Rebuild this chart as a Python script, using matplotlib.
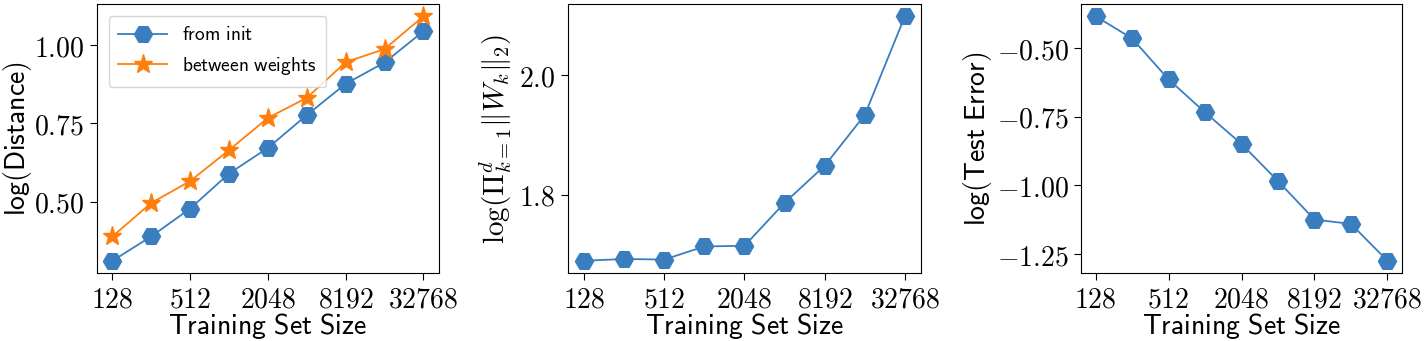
import numpy as np
import matplotlib
matplotlib.use("Agg")
import matplotlib.pyplot as plt
from matplotlib.ticker import FixedLocator, FuncFormatter

plt.rcParams["mathtext.fontset"] = "cm"
plt.rcParams["font.family"] = ["DejaVu Sans"]

# ── datos ────────────────────────────────────────────────────────────────────
train_sizes = [128, 256, 512, 1024, 2048, 4096, 8192, 16384, 32768]
tick_sizes  = [128, 512, 2048, 8192, 32768]

dist_from_init       = [0.311, 0.389, 0.478, 0.590, 0.672, 0.777, 0.877, 0.945, 1.045]
dist_between_weights = [0.389, 0.496, 0.566, 0.665, 0.768, 0.832, 0.946, 0.988, 1.093]
log_spectral_prod    = [1.690, 1.693, 1.692, 1.714, 1.715, 1.787, 1.849, 1.934, 2.099]
log_test_error       = [-0.384, -0.465, -0.614, -0.734, -0.849, -0.984, -1.124, -1.140, -1.274]

BLUE   = "#3a7ebf"
ORANGE = "#ff7f0e"


def sf(txt):
    # texto en Computer Modern Sans vía mathtext
    return r"$\mathsf{%s}$" % txt.replace(" ", r"\ ")


fig = plt.figure(figsize=(14.25, 3.41), dpi=100)
ax1 = fig.add_axes([0.0680, 0.1994, 0.2401, 0.789])
ax2 = fig.add_axes([0.3986, 0.1994, 0.2477, 0.789])
ax3 = fig.add_axes([0.7586, 0.1994, 0.2253, 0.789])


def style(ax, yticks, dec):
    ax.set_xscale("log", base=2)
    ax.xaxis.set_major_locator(FixedLocator(tick_sizes))
    ax.xaxis.set_minor_locator(FixedLocator([]))
    ax.xaxis.set_major_formatter(FuncFormatter(lambda v, p: "$%d$" % v))
    ax.yaxis.set_major_locator(FixedLocator(yticks))
    ax.yaxis.set_major_formatter(FuncFormatter(lambda v, p: "$%s$" % f"{v:.{dec}f}"))
    ax.tick_params(labelsize=20, length=5, pad=4)
    ax.set_xlabel(sf("Training Set Size"), fontsize=20, labelpad=-2)


# ── panel 1: distancia ───────────────────────────────────────────────────────
ax1.plot(train_sizes, dist_from_init, color=BLUE, marker="H", markersize=13,
         lw=1.3, label=sf("from init"))
ax1.plot(train_sizes, dist_between_weights, color=ORANGE, marker="*", markersize=14,
         lw=1.3, label=sf("between weights"))
style(ax1, [0.50, 0.75, 1.00], 2)
ax1.set_ylabel(sf("log(Distance)"), fontsize=20, labelpad=0)
ax1.legend(loc="upper left", fontsize=14, handlelength=2.5, borderpad=0.5,
           labelspacing=0.55, borderaxespad=0.6)

# ── panel 2: producto de normas espectrales ──────────────────────────────────
ax2.plot(train_sizes, log_spectral_prod, color=BLUE, marker="H", markersize=13, lw=1.3)
style(ax2, [1.8, 2.0], 1)
ax2.set_ylabel(r"$\log(\Pi_{k=1}^{d}\|W_k\|_2)$", fontsize=21, labelpad=4)

# ── panel 3: error de test ───────────────────────────────────────────────────
ax3.plot(train_sizes, log_test_error, color=BLUE, marker="H", markersize=13, lw=1.3)
style(ax3, [-1.25, -1.00, -0.75, -0.50], 2)
ax3.set_ylabel(sf("log(Test Error)"), fontsize=20, labelpad=2)

plt.savefig("out.png", dpi=100)
